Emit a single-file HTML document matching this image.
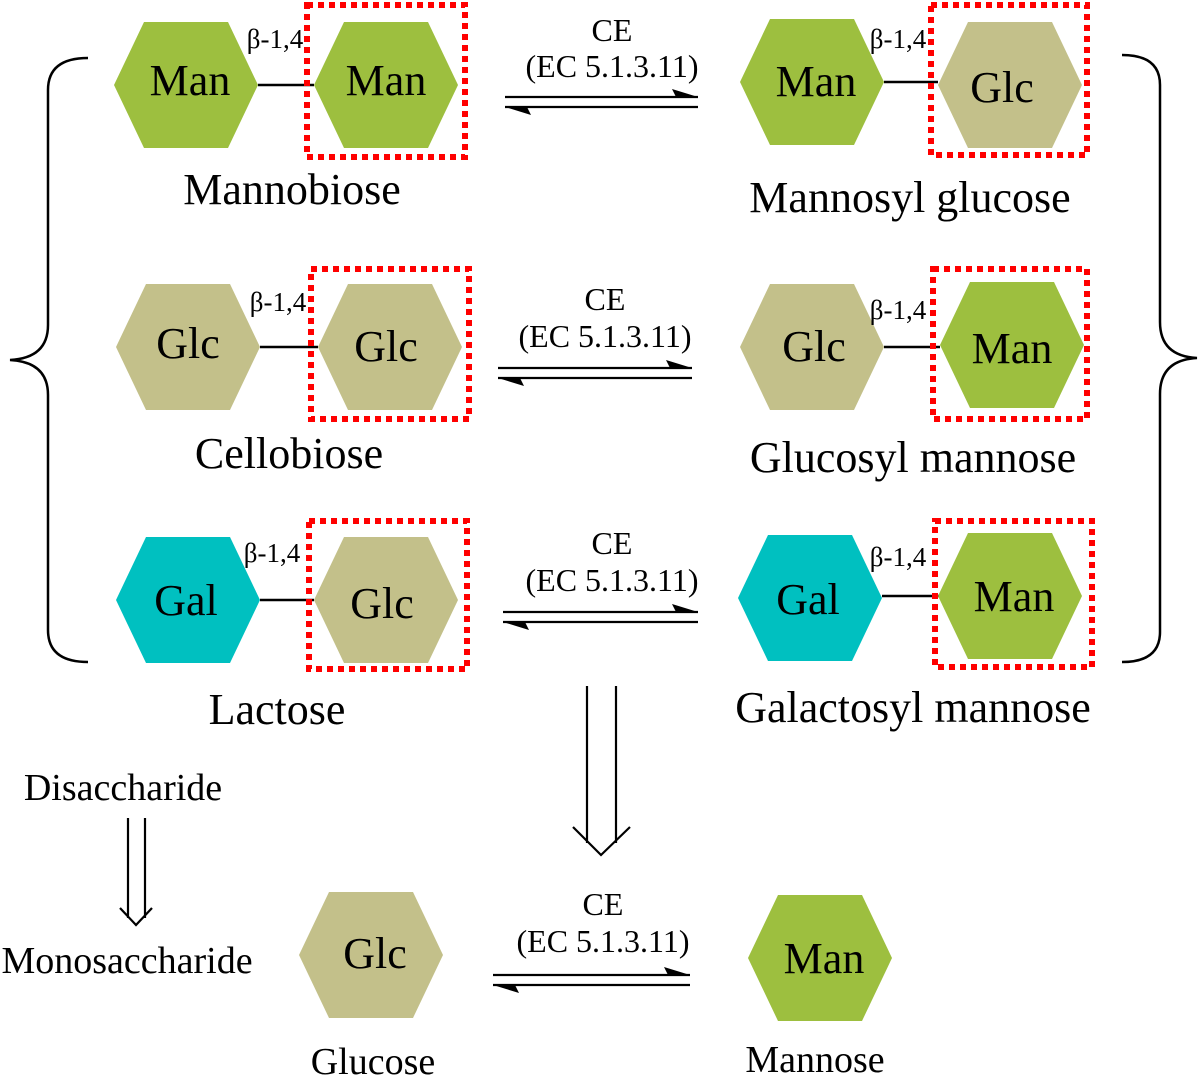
<!DOCTYPE html>
<html><head><meta charset="utf-8"><style>html,body{margin:0;padding:0;background:#fff}svg{display:block}</style></head>
<body>
<svg width="1200" height="1076" viewBox="0 0 1200 1076" xmlns="http://www.w3.org/2000/svg" font-family="'Liberation Serif', serif">
<defs>
<polygon id="hx" points="-72,0 -42,-63 42,-63 72,0 42,63 -42,63"/>
</defs>
<g stroke="#000" stroke-width="2.5" fill="none">
<path d="M88,58 Q48,58 48,90 L48,325 Q48,358 10,360 Q48,362 48,395 L48,630 Q48,662 88,662"/>
<path d="M1122,55 Q1160,55 1160,85 L1160,322 Q1160,356 1197,358 Q1160,360 1160,394 L1160,632 Q1160,662 1122,662"/>
<line x1="258" y1="85" x2="314" y2="85"/>
<line x1="884" y1="82" x2="938" y2="82"/>
<line x1="260" y1="347" x2="318" y2="347"/>
<line x1="884" y1="347" x2="940" y2="347"/>
<line x1="260" y1="600" x2="314" y2="600"/>
<line x1="882" y1="596" x2="940" y2="596"/>
</g>
<g stroke="#000" stroke-width="2.2" fill="none">
<path d="M505,97 H698 M505,107 H698"/>
<path d="M498,368 H692 M498,378 H692"/>
<path d="M503,612 H698 M503,622 H698"/>
<path d="M493,975 H690 M493,985 H690"/>
<path d="M587,686 V843 M616,686 V843 M573,827 L601,855 L630,827"/>
<path d="M128,818 V918 M145,818 V918 M120,908 L136,925 L152,908"/>
</g>
<g fill="#000">
<polygon points="698,97 672,89 676,97"/><polygon points="505,107 531,115 527,107"/>
<polygon points="692,368 666,360 670,368"/><polygon points="498,378 524,386 520,378"/>
<polygon points="698,612 672,604 676,612"/><polygon points="503,622 529,630 525,622"/>
<polygon points="690,975 664,967 668,975"/><polygon points="493,985 519,993 515,985"/>
</g>
<g fill="none" stroke="#ff0000" stroke-width="6" stroke-dasharray="6,5">
<rect x="307" y="5" width="158" height="152"/>
<rect x="931" y="5" width="156" height="150"/>
<rect x="311" y="269" width="158" height="150"/>
<rect x="933" y="269" width="154" height="150"/>
<rect x="309" y="521" width="158" height="148"/>
<rect x="935" y="521" width="157" height="146"/>
</g>
<g>
<use href="#hx" x="186" y="85" fill="#9dbf3f"/>
<use href="#hx" x="386" y="85" fill="#9dbf3f"/>
<use href="#hx" x="812" y="82" fill="#9dbf3f"/>
<use href="#hx" x="1010" y="85" fill="#c3c08a"/>
<use href="#hx" x="188" y="347" fill="#c3c08a"/>
<use href="#hx" x="390" y="347" fill="#c3c08a"/>
<use href="#hx" x="812" y="347" fill="#c3c08a"/>
<use href="#hx" x="1012" y="345" fill="#9dbf3f"/>
<use href="#hx" x="188" y="600" fill="#00c0c0"/>
<use href="#hx" x="386" y="600" fill="#c3c08a"/>
<use href="#hx" x="810" y="598" fill="#00c0c0"/>
<use href="#hx" x="1010" y="596" fill="#9dbf3f"/>
<use href="#hx" x="371" y="955" fill="#c3c08a"/>
<use href="#hx" x="820" y="958" fill="#9dbf3f"/>
</g>
<g font-size="44" text-anchor="middle" fill="#000">
<text x="190" y="95">Man</text>
<text x="386" y="95">Man</text>
<text x="816" y="96">Man</text>
<text x="1002" y="102">Glc</text>
<text x="188" y="358">Glc</text>
<text x="386" y="361">Glc</text>
<text x="814" y="361">Glc</text>
<text x="1012" y="363">Man</text>
<text x="186" y="615">Gal</text>
<text x="382" y="618">Glc</text>
<text x="808" y="614">Gal</text>
<text x="1014" y="611">Man</text>
<text x="375" y="968">Glc</text>
<text x="824" y="973">Man</text>
<text x="292" y="204">Mannobiose</text>
<text x="910" y="212">Mannosyl glucose</text>
<text x="289" y="468">Cellobiose</text>
<text x="913" y="472">Glucosyl mannose</text>
<text x="277" y="724">Lactose</text>
<text x="913" y="722">Galactosyl mannose</text>
</g>
<g font-size="38" text-anchor="middle" fill="#000">
<text x="123" y="800">Disaccharide</text>
<text x="127" y="973">Monosaccharide</text>
<text x="373" y="1074">Glucose</text>
<text x="815" y="1072">Mannose</text>
</g>
<g font-size="32" text-anchor="middle" fill="#000">
<text x="612" y="41">CE</text><text x="612" y="77">(EC 5.1.3.11)</text>
<text x="605" y="310">CE</text><text x="605" y="347">(EC 5.1.3.11)</text>
<text x="612" y="554">CE</text><text x="612" y="591">(EC 5.1.3.11)</text>
<text x="603" y="915">CE</text><text x="603" y="952">(EC 5.1.3.11)</text>
</g>
<g font-size="27" text-anchor="middle" fill="#000">
<text x="275" y="48">β-1,4</text>
<text x="898" y="48">β-1,4</text>
<text x="278" y="311">β-1,4</text>
<text x="898" y="319">β-1,4</text>
<text x="272" y="562">β-1,4</text>
<text x="898" y="566">β-1,4</text>
</g>
</svg>
</body></html>
